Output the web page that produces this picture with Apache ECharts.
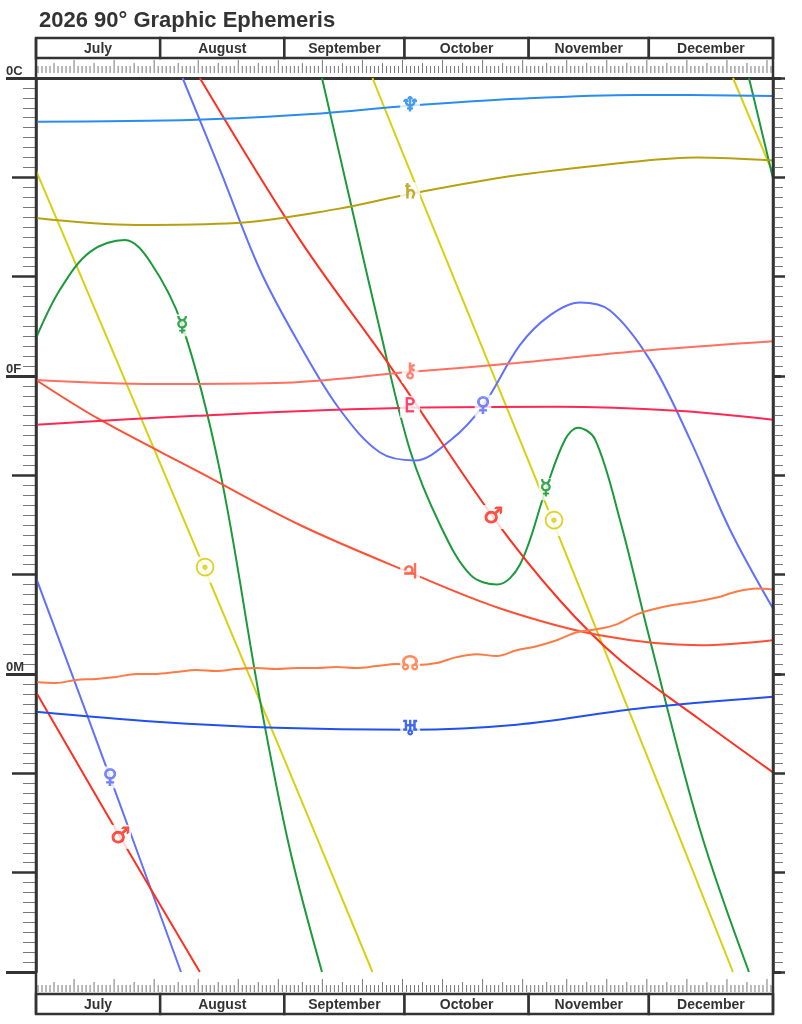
<!DOCTYPE html>
<html><head><meta charset="utf-8">
<script src="https://cdn.jsdelivr.net/npm/echarts@6/dist/echarts.min.js"></script>
<style>html,body{margin:0;padding:0;background:#fff}#c{width:802px;height:1024px}</style>
</head><body><div id="c"></div>
<script>
// x = days since July 1 2026 ; y = position on 90° dial (degrees)
const months = ['July','August','September','October','November','December'];
const monthDays = [31,31,30,31,30,31];
const yLabels = {0:'0C',30:'0F',60:'0M'};

const sun = [[0,9.3],[31,38.8],[62,68.6],[84,90],null,[84,0],[92,8.0],[123,38.6],[153,68.7],[174,90],null,[174,0],[184,9.6]];
const mercury = [[0,26.2],[6,21.3],[13.5,17.5],[22.2,16.3],[28.5,18.5],[36.5,24.9],[45.9,39.5],[55.9,62.6],[63.4,77.7],[71.4,90],null,
  [71.4,0],[78.4,12.3],[85.9,25.4],[93.4,37.5],[100.9,45.0],[108.4,50.0],[115.1,51.0],[120.8,49.0],[127.3,41.4],[132.1,36.4],[135.3,35.2],[139.6,36.4],[145.8,44.5],[153.3,56.6],[165.8,75.7],[178,90],null,[178,0],[184,10.1]];
const venus = [[0,50.3],[18.5,70.4],[36.2,90],null,[36.6,0],[46,9.3],[55.9,19.3],[65.9,26.9],[75.9,33.4],[85.9,37.7],[94.6,38.5],[103.4,36.5],[111.6,33.0],[120.8,26.9],[128.3,23.9],[135.8,22.6],[143.3,23.4],[153.3,28.4],[163.3,36.4],[173.3,45.5],[184,53.4]];
const mars = [[0,61.8],[21,76.4],[40.9,90],null,[40.9,0],[65.9,16.3],[88.4,29.0],[114.1,44.2],[130.8,52.6],[145.8,58.6],[165.8,64.6],[184,69.9]];
const jupiter = [[0,30.4],[16,34.4],[40.9,39.7],[65.9,45.0],[93.4,49.8],[115.9,53.4],[140.8,56.1],[165.8,57.1],[184,56.6]];
const saturn = [[0,14.1],[25,14.8],[50,14.6],[75,13.2],[93,11.7],[120,9.8],[150,8.4],[165,8.0],[184,8.3]];
const chiron = [[0,30.4],[30,30.8],[60,30.7],[93,29.6],[120,28.7],[150,27.5],[184,26.5]];
const uranus = [[0,63.8],[30,64.8],[60,65.4],[93,65.6],[120,65.1],[150,63.5],[184,62.3]];
const neptune = [[0,4.4],[40,4.2],[70,3.6],[93,2.8],[120,2.1],[150,1.7],[184,1.8]];
const pluto = [[0,34.9],[40,34.0],[93,33.2],[130,33.1],[160,33.5],[184,34.4]];
const node = [[0,60.8],[5,60.9],[10,60.6],[15,60.5],[20,60.3],[25,60.0],[30,60.0],[35,59.8],[40,59.6],[45,59.7],[50,59.5],[55,59.4],[60,59.5],[65,59.4],[70,59.4],[75,59.3],[80,59.4],[85,59.2],[90,59.0],[95,59.1],[100,58.9],[105,58.3],[110,58.0],[115,58.2],[120,57.6],[125,57.2],[130,56.6],[135,55.8],[140,55.5],[145,55.0],[150,54.0],[155,53.4],[160,53.0],[165,52.7],[170,52.3],[175,51.7],[180,51.4],[184,51.5]];

const planets = [
  {name:'Sun',glyph:'☉',color:'#d8d010',data:sun,marks:[[42.2,49.5],[129.3,44.8]],size:24},
  {name:'Mercury',glyph:'☿',color:'#1a9a3a',data:mercury,marks:[[36.5,24.9],[127.3,41.4]]},
  {name:'Venus',glyph:'♀',color:'#6070ff',data:venus,marks:[[18.5,70.4],[111.6,33.0]]},
  {name:'Mars',glyph:'♂',color:'#ff3020',data:mars,marks:[[21,76.4],[114.1,44.2]],size:22},
  {name:'Jupiter',glyph:'♃',color:'#ff5035',data:jupiter,marks:[[93.4,49.8]]},
  {name:'Saturn',glyph:'♄',color:'#b8a010',data:saturn,marks:[[93.4,11.6]]},
  {name:'Chiron',glyph:'⚷',color:'#ff7060',data:chiron,marks:[[93.4,29.6]]},
  {name:'Uranus',glyph:'♅',color:'#2050f0',data:uranus,marks:[[93.4,65.6]]},
  {name:'Neptune',glyph:'♆',color:'#2a8cf0',data:neptune,marks:[[93.4,2.8]]},
  {name:'Pluto',glyph:'♇',color:'#ff2855',data:pluto,marks:[[93.4,33.1]]},
  {name:'Node',glyph:'☊',color:'#ff7a45',data:node,marks:[[93.4,59.1]]}
];

const monthRanges = []; let acc = 0;
months.forEach((m,i)=>{monthRanges.push([acc,acc+monthDays[i],m]); acc+=monthDays[i];});
const dayTicks = []; acc=0;
monthDays.forEach(n=>{for(let d=1;d<=n;d++){dayTicks.push([acc+d-1,d]);} acc+=n;});

const chart = echarts.init(document.getElementById('c'));
const C='#333';
const series = [];
planets.forEach(p=>{
  series.push({type:'line',name:p.name,data:p.data,smooth:0.35,showSymbol:false,connectNulls:false,
    lineStyle:{color:p.color,width:2},z:2,animation:false});
  series.push({type:'scatter',data:p.marks,symbolSize:1,itemStyle:{color:'rgba(0,0,0,0)'},z:5,animation:false,
    label:{show:true,position:'inside',formatter:p.glyph,color:p.color,fontSize:p.size||20,fontWeight:'bold',
      fontFamily:'"DejaVu Sans"',backgroundColor:'#fff',padding:[0,1],lineHeight:(p.size||20)+2,
      textBorderColor:p.color,textBorderWidth:0.9}});
});
series.push({type:'custom',data:monthRanges,clip:false,z:10,animation:false,
  renderItem:function(params,api){
    const x1=api.coord([api.value(0),0])[0], x2=api.coord([api.value(1),0])[0];
    const name=monthRanges[params.dataIndex][2];
    const kids=[];
    [[38,58],[994,1014]].forEach(([a,b])=>{
      kids.push({type:'rect',shape:{x:x1,y:a,width:x2-x1,height:b-a},style:{fill:'#fff',stroke:C,lineWidth:2.5}});
      kids.push({type:'text',style:{x:(x1+x2)/2,y:(a+b)/2+1,text:name,align:'center',verticalAlign:'middle',
        font:'bold 14px "Liberation Sans", Arial',fill:C}});
    });
    if(params.dataIndex===0) kids.push({type:'line',shape:{x1:x1,y1:38,x2:x1,y2:1014},style:{stroke:C,lineWidth:2.5}});
    if(params.dataIndex===monthRanges.length-1) kids.push({type:'line',shape:{x1:x2,y1:38,x2:x2,y2:1014},style:{stroke:C,lineWidth:2.5}});
    return {type:'group',children:kids};
  }});
series.push({type:'custom',data:dayTicks,clip:false,z:9,animation:false,
  renderItem:function(params,api){
    const x=api.coord([api.value(0)+0.5,0])[0]; const d=api.value(1);
    const len = (d%10===0)?13:(d%5===0?10:7);
    return {type:'group',children:[
      {type:'line',shape:{x1:x,y1:73,x2:x,y2:73-len},style:{stroke:'#777',lineWidth:1}},
      {type:'line',shape:{x1:x,y1:992,x2:x,y2:992-len},style:{stroke:'#777',lineWidth:1}}]};
  }});

const yBase = {type:'value',min:0,max:90,inverse:true,splitLine:{show:false}};
chart.setOption({
  animation:false,
  title:{text:'2026 90° Graphic Ephemeris',left:34,top:5,textStyle:{fontSize:22,fontWeight:'bold',color:C,fontFamily:'"Liberation Sans", Arial'}},
  grid:{left:36,right:29,top:78,bottom:52},
  xAxis:[
    {type:'value',min:0,max:184,position:'top',axisLine:{show:true,lineStyle:{color:C,width:3}},axisTick:{show:false},axisLabel:{show:false},splitLine:{show:false}},
    {type:'value',min:0,max:184,position:'bottom',axisLine:{show:true,lineStyle:{color:C,width:3}},axisTick:{show:false},axisLabel:{show:false},splitLine:{show:false}}
  ],
  yAxis:[
    Object.assign({},yBase,{position:'left',interval:10,axisLine:{show:true,lineStyle:{color:C,width:2.5}},
      axisTick:{show:true,length:24,lineStyle:{color:C,width:2.5}},
      minorTick:{show:true,splitNumber:10,length:13,lineStyle:{color:'#777',width:1}},
      axisLabel:{show:true,margin:30,align:'left',verticalAlign:'bottom',fontSize:13,fontWeight:'bold',color:C,
        fontFamily:'"Liberation Sans", Arial',formatter:v=>yLabels[v]||''}}),
    Object.assign({},yBase,{position:'left',interval:30,axisLine:{show:false},
      axisTick:{show:true,length:30,lineStyle:{color:C,width:3}},axisLabel:{show:false}}),
    Object.assign({},yBase,{position:'right',interval:10,axisLine:{show:true,lineStyle:{color:C,width:2.5}},
      axisTick:{show:true,length:12,lineStyle:{color:C,width:2.5}},
      minorTick:{show:true,splitNumber:10,length:10,lineStyle:{color:'#777',width:1}},axisLabel:{show:false}}),
    Object.assign({},yBase,{position:'right',interval:30,axisLine:{show:false},
      axisTick:{show:true,length:8,lineStyle:{color:C,width:3}},axisLabel:{show:false}})
  ],
  series:series
});
</script></body></html>
